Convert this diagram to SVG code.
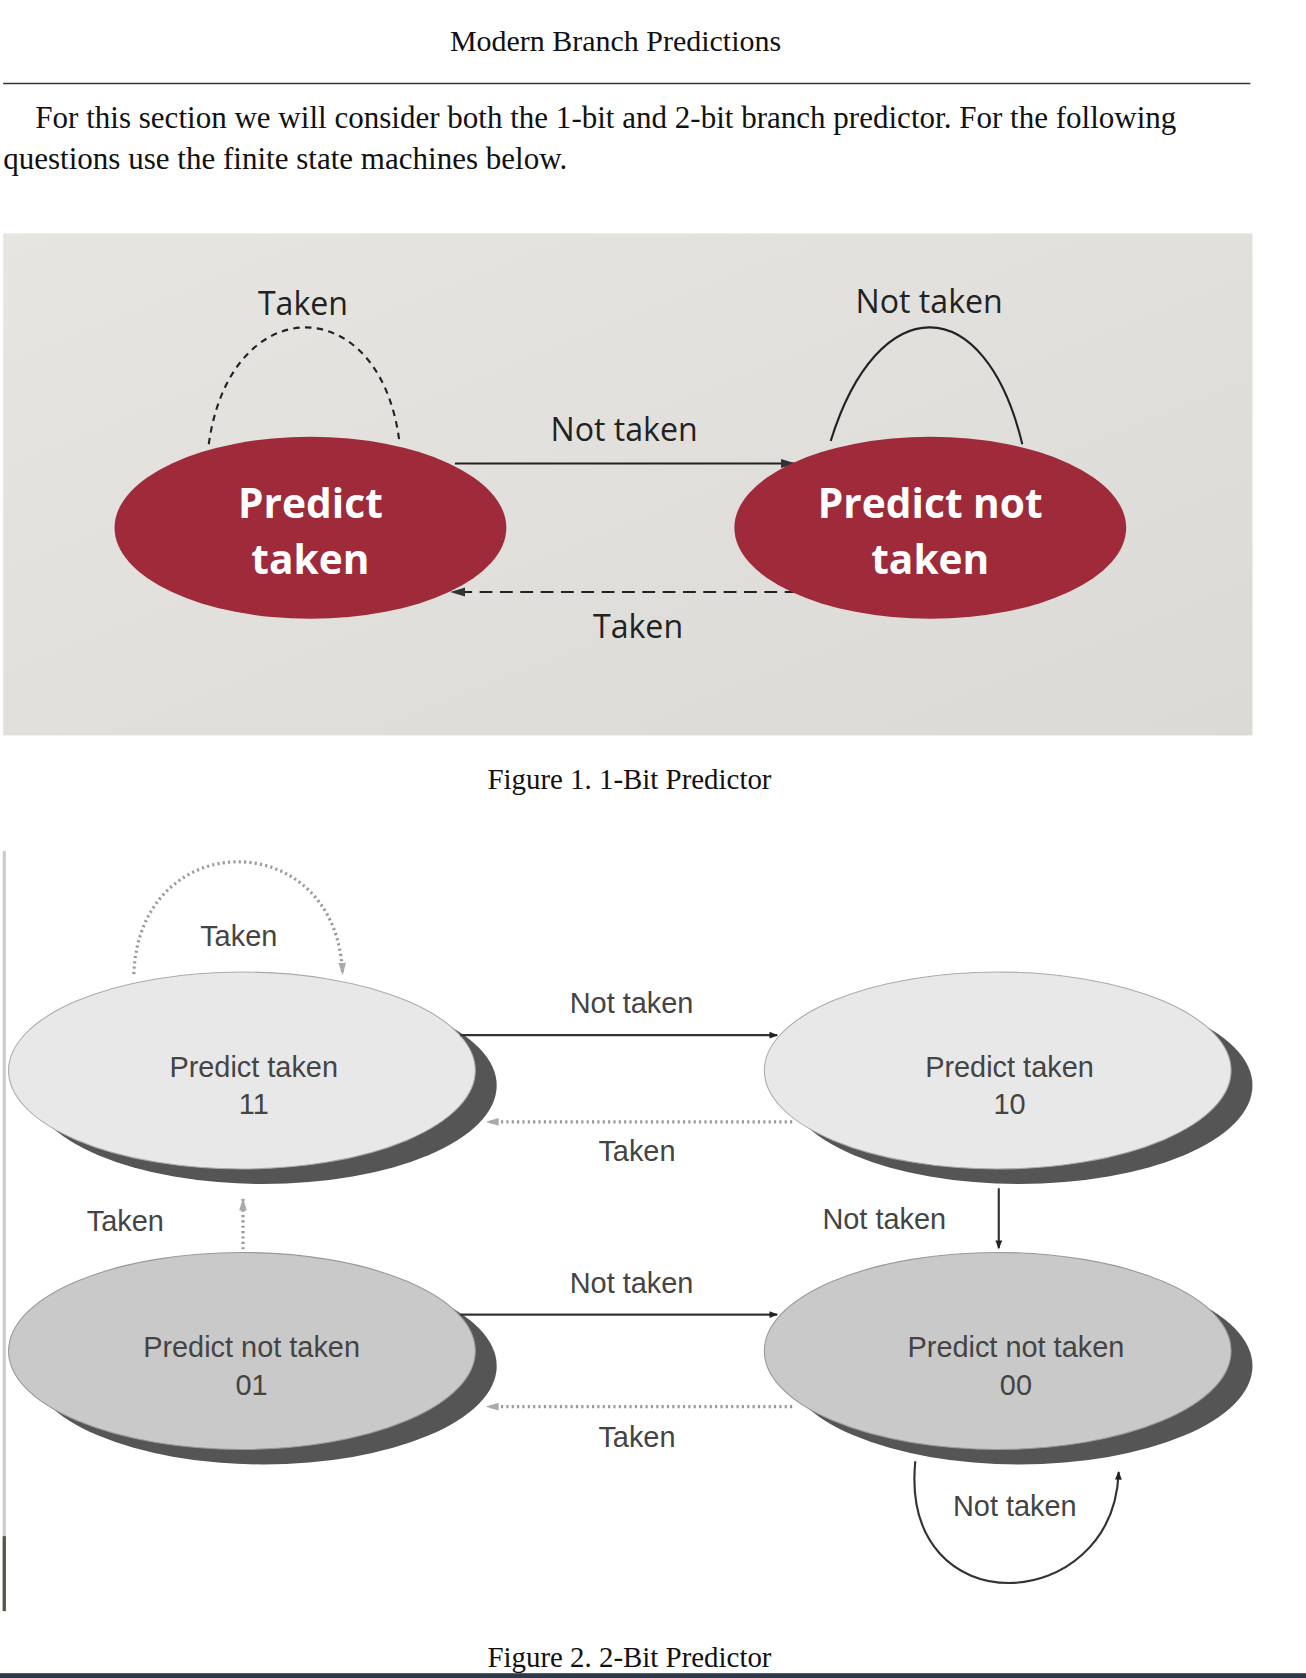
<svg xmlns="http://www.w3.org/2000/svg" width="1306" height="1678" viewBox="0 0 1306 1678">
<defs>
<style>
.serif{font-family:"Liberation Serif","Times New Roman",serif;fill:#111}
.f1{font-family:"Open Sans","DejaVu Sans",sans-serif;font-size:30px;fill:#222;text-anchor:middle}
.n1{font-family:"Open Sans","DejaVu Sans",sans-serif;font-size:38px;font-weight:bold;fill:#fff;text-anchor:middle}
.f2{font-family:"Liberation Sans",Arial,sans-serif;font-size:27px;fill:#444;text-anchor:middle}
.ln{stroke:#222;stroke-width:2;fill:none}
.ln2{stroke:#333;stroke-width:2;fill:none}
.dot{stroke:#999;stroke-width:3;stroke-dasharray:2 3;fill:none}
</style>
<marker id="ah" viewBox="0 0 10 10" refX="9" refY="5" markerWidth="8" markerHeight="8" orient="auto" markerUnits="userSpaceOnUse"><path d="M0,1 L10,5 L0,9 z" fill="#222"/></marker>
<marker id="ah2" viewBox="0 0 10 10" refX="9" refY="5" markerWidth="14" markerHeight="14" orient="auto" markerUnits="userSpaceOnUse"><path d="M0,2 L10,5 L0,8 z" fill="#333"/></marker>
<marker id="ahg" viewBox="0 0 10 10" refX="9" refY="5" markerWidth="12" markerHeight="12" orient="auto" markerUnits="userSpaceOnUse"><path d="M0,2 L10,5 L0,8 z" fill="#aaa"/></marker>
<linearGradient id="bg1" x1="0" y1="0" x2="1" y2="1"><stop offset="0" stop-color="#e7e5e2"/><stop offset="1" stop-color="#dcdad6"/></linearGradient>
</defs>
<rect width="1306" height="1678" fill="#fff"/>
<g transform="scale(1.0705)">
<text class="serif" x="575" y="48" font-size="28" text-anchor="middle">Modern Branch Predictions</text>
<line x1="3" y1="78" x2="1168" y2="78" stroke="#333" stroke-width="1.2"/>
<text class="serif" x="33" y="120" font-size="29">For this section we will consider both the 1-bit and 2-bit branch predictor. For the following</text>
<text class="serif" x="3" y="158" font-size="29">questions use the finite state machines below.</text>

<rect x="3" y="218" width="1167" height="469" fill="url(#bg1)"/>
<g id="conn1">
<line class="ln" x1="425" y1="433" x2="742" y2="433" marker-end="url(#ah2)"/>
<line class="ln" x1="745" y1="553" x2="422" y2="553" stroke-dasharray="12 7" marker-end="url(#ah2)"/>
<path class="ln" d="M195,415 C215,270 355,270 373,412" stroke-dasharray="6 5" stroke-width="1.5"/>
<path class="ln" d="M776,412 C820,270 920,270 955,415" stroke-width="1.5"/>
<text class="f1" x="583" y="412">Not taken</text>
<text class="f1" x="596" y="596">Taken</text>
<text class="f1" x="283" y="294">Taken</text>
<text class="f1" x="868" y="292">Not taken</text>
</g>
<g id="pt1"><ellipse cx="290" cy="493" rx="183" ry="85" fill="#9e2a3a"/><text class="n1" x="290" y="484">Predict</text><text class="n1" x="290" y="536">taken</text></g>
<g id="pnt1"><ellipse cx="869" cy="493" rx="183" ry="85" fill="#9e2a3a"/><text class="n1" x="869" y="484">Predict not</text><text class="n1" x="869" y="536">taken</text></g>
<text class="serif" x="588" y="737" font-size="27" text-anchor="middle">Figure 1.   1-Bit Predictor</text>

<line x1="4" y1="795" x2="4" y2="1505" stroke="#ccc" stroke-width="3"/>
<line x1="4" y1="1435" x2="4" y2="1505" stroke="#554" stroke-width="3"/>
<g id="s11"><ellipse cx="246" cy="1014" rx="218" ry="92" fill="#555"/><ellipse cx="226" cy="1000" rx="218" ry="92" fill="#e8e8e8" stroke="#aaa"/><text class="f2" x="237" y="1006">Predict taken</text><text class="f2" x="237" y="1041">11</text></g>
<g id="s10"><ellipse cx="952" cy="1014" rx="218" ry="92" fill="#555"/><ellipse cx="932" cy="1000" rx="218" ry="92" fill="#e8e8e8" stroke="#aaa"/><text class="f2" x="943" y="1006">Predict taken</text><text class="f2" x="943" y="1041">10</text></g>
<g id="s01"><ellipse cx="246" cy="1276" rx="218" ry="92" fill="#555"/><ellipse cx="226" cy="1262" rx="218" ry="92" fill="#c9c9c9" stroke="#999"/><text class="f2" x="235" y="1268">Predict not taken</text><text class="f2" x="235" y="1303">01</text></g>
<g id="s00"><ellipse cx="952" cy="1276" rx="218" ry="92" fill="#555"/><ellipse cx="932" cy="1262" rx="218" ry="92" fill="#c9c9c9" stroke="#999"/><text class="f2" x="949" y="1268">Predict not taken</text><text class="f2" x="949" y="1303">00</text></g>
<g id="conn2">
<line class="ln2" x1="430" y1="967" x2="726" y2="967" marker-end="url(#ah)"/>
<line class="dot" x1="740" y1="1048" x2="455" y2="1048" marker-end="url(#ahg)"/>
<line class="ln2" x1="933" y1="1110" x2="933" y2="1166" marker-end="url(#ah)"/>
<line class="dot" x1="227" y1="1167" x2="227" y2="1120" marker-end="url(#ahg)"/>
<line class="ln2" x1="430" y1="1228" x2="726" y2="1228" marker-end="url(#ah)"/>
<line class="dot" x1="740" y1="1314" x2="455" y2="1314" marker-end="url(#ahg)"/>
<path class="dot" d="M125,910 C130,770 315,770 320,910" marker-end="url(#ahg)"/>
<path class="ln2" d="M855,1365 C840,1520 1040,1510 1045,1375" stroke-width="1.5" marker-end="url(#ah)"/>
<text class="f2" x="590" y="946">Not taken</text>
<text class="f2" x="595" y="1085">Taken</text>
<text class="f2" x="826" y="1148">Not taken</text>
<text class="f2" x="117" y="1150">Taken</text>
<text class="f2" x="590" y="1208">Not taken</text>
<text class="f2" x="595" y="1352">Taken</text>
<text class="f2" x="223" y="884">Taken</text>
<text class="f2" x="948" y="1416">Not taken</text>
</g>
<text class="serif" x="588" y="1557" font-size="27" text-anchor="middle">Figure 2.   2-Bit Predictor</text>
<rect x="0" y="1563" width="1220" height="6" fill="#2c3a4c"/>
</g>
</svg>
